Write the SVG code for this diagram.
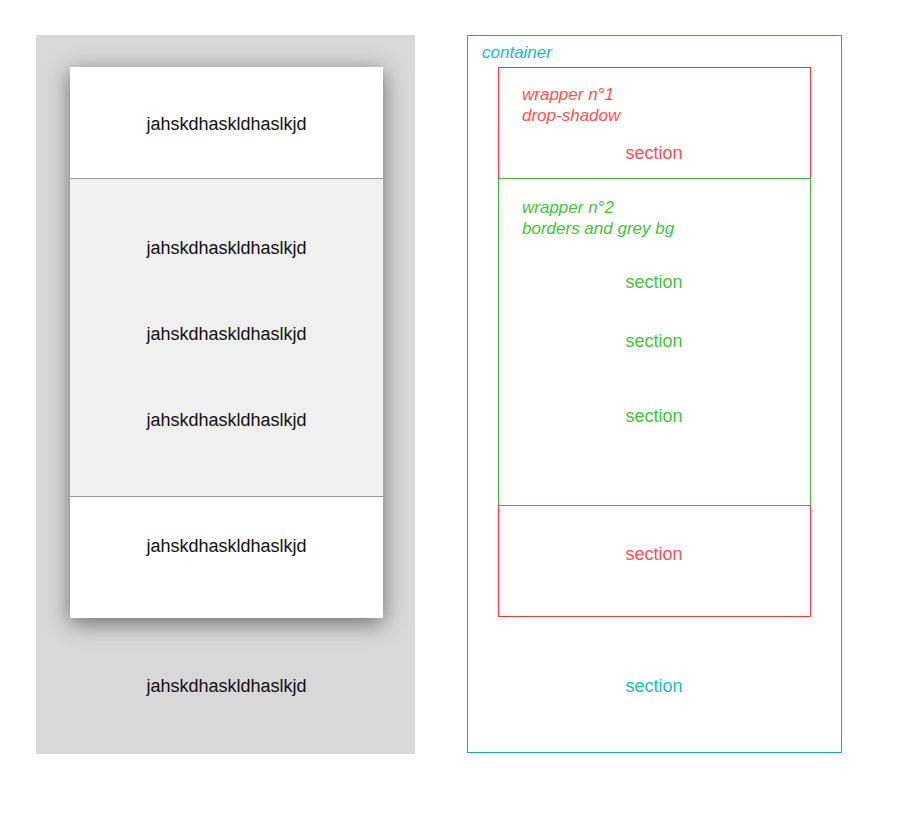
<svg xmlns="http://www.w3.org/2000/svg" width="897" height="813" viewBox="0 0 897 813">
<style>
.t{font-family:"Liberation Sans",Arial,sans-serif;font-size:18px;fill:#111;text-anchor:middle}
.s{font-family:"Liberation Sans",Arial,sans-serif;font-size:18px;text-anchor:middle}
.i{font-family:"Liberation Sans",Arial,sans-serif;font-size:17px;font-style:italic}
.red{fill:#ff5050}.grn{fill:#44c437}.cyn{fill:#1fb8c8}
.bred{fill:none;stroke:#ff3535;stroke-width:1}
.bgrn{fill:none;stroke:#3db52e;stroke-width:1}
.bcyn{fill:none;stroke:#1aa8b8;stroke-width:1}
</style>
<defs>
<filter id="sh" x="-25%" y="-15%" width="150%" height="130%">
<feDropShadow dx="0" dy="5" stdDeviation="11" flood-color="#000" flood-opacity="0.5"/>
</filter>
</defs>
<rect width="897" height="813" fill="#fff"/>
<g id="left">
<rect x="36" y="35" width="379" height="719" fill="#d8d8d8"/>
<rect x="70" y="67" width="313" height="551" fill="#fff" filter="url(#sh)"/>
<rect x="70" y="178.5" width="313" height="318" fill="#f0f0f0"/>
<line x1="70" y1="178.5" x2="383" y2="178.5" stroke="#999"/>
<line x1="70" y1="496.5" x2="383" y2="496.5" stroke="#999"/>
<text class="t" x="226.5" y="130">jahskdhaskldhaslkjd</text>
<text class="t" x="226.5" y="254">jahskdhaskldhaslkjd</text>
<text class="t" x="226.5" y="340">jahskdhaskldhaslkjd</text>
<text class="t" x="226.5" y="426">jahskdhaskldhaslkjd</text>
<text class="t" x="226.5" y="552">jahskdhaskldhaslkjd</text>
<text class="t" x="226.5" y="692">jahskdhaskldhaslkjd</text>
</g>
<g id="container">
<rect class="bcyn" x="467.5" y="35.5" width="374" height="717"/>
<text class="i cyn" x="482" y="58">container</text>
<text class="s cyn" x="654" y="692">section</text>
</g>
<g id="wrapper1">
<rect class="bred" x="498.5" y="67.5" width="312" height="549"/>
<text class="i red" x="522" y="100">wrapper n°1</text>
<text class="i red" x="522" y="121">drop-shadow</text>
<text class="s red" x="654" y="159">section</text>
<text class="s red" x="654" y="560">section</text>
</g>
<g id="wrapper2">
<rect class="bgrn" x="498.5" y="178.5" width="312" height="327"/>
<text class="i grn" x="522" y="213">wrapper n°2</text>
<text class="i grn" x="522" y="234">borders and grey bg</text>
<text class="s grn" x="654" y="288">section</text>
<text class="s grn" x="654" y="347">section</text>
<text class="s grn" x="654" y="422">section</text>
</g>
<g id="connectors"></g>
</svg>
